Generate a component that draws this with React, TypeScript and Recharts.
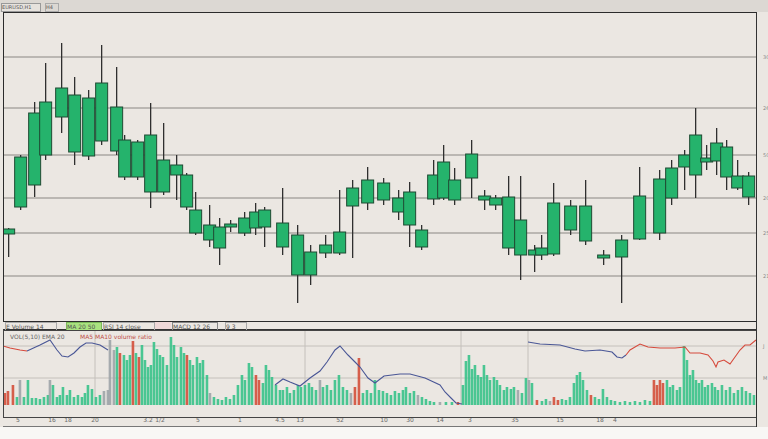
import React from 'react';
import { ComposedChart, Bar, Line, XAxis, YAxis, CartesianGrid, Cell } from 'recharts';

// ---- price panel data ----
const candleTime = [9,21,35,46,62,75,89,102,117,125,138,151,164,177,187,196,210,220,231,245,256,265,283,298,311,326,340,353,368,384,399,410,422,434,444,455,472,485,496,509,521,535,542,554,571,586,604,622,640,660,672,685,696,707,717,727,738,749];
const candleOpen = [187,214,236,266,304,269,265,280,270,244,244,229,229,246,214,188,181,173,194,188,193,194,174,146,146,168,168,215,218,221,209,196,174,222,223,221,243,221,216,173,166,166,166,167,191,180,163,164,182,188,223,254,246,259,260,244,233,224];
const candleClose = [192,264,308,319,333,326,323,338,314,281,279,286,261,256,246,211,196,194,197,203,209,211,198,186,169,176,189,233,241,238,223,229,191,246,259,241,267,225,223,224,201,171,173,218,215,215,166,181,225,242,253,266,286,263,278,274,245,245];
const candleHigh = [193,266,319,358,378,344,331,376,354,286,281,318,298,266,248,229,216,203,201,209,218,214,233,196,176,186,231,241,254,243,231,239,196,261,276,253,281,231,226,245,245,176,186,238,221,241,171,186,254,251,261,271,313,276,293,281,261,249];
const candleLow = [164,211,224,261,288,256,261,276,266,241,241,213,226,221,211,186,174,156,189,185,186,174,166,118,136,163,166,163,211,216,201,174,171,216,221,216,223,211,211,166,141,149,161,165,186,176,156,118,181,181,216,231,223,251,246,231,231,216];
const priceTicks = [145,188,223,266,313,364];
const priceTickText = ['21', '25', '20', '50', '26', '30'];
const timeGridTop = [95,172,374,461,528];

// ---- volume panel data ----
const volTime = [5,8,13,17,20,24,28,32,36,40,44,48,50,53,57,60,63,67,70,74,78,82,85,88,92,96,100,104,108,110,114,117,120,124,127,130,133,136,139,142,145,148,151,154,157,160,163,167,171,174,177,181,184,187,190,193,197,200,203,207,210,214,218,222,226,230,234,238,242,245,249,252,256,259,263,266,269,272,276,280,283,287,290,294,298,301,305,309,312,316,320,323,327,331,335,339,343,347,351,355,359,363,367,371,375,379,383,387,391,395,399,403,406,410,414,418,422,426,430,434,440,446,452,458,463,466,469,472,475,478,481,484,487,490,494,497,500,504,507,511,514,518,522,526,529,532,537,542,546,550,554,558,562,566,570,574,577,580,583,587,591,595,599,603,607,611,615,620,625,630,635,640,645,650,654,657,660,663,667,670,673,677,680,684,687,690,693,696,699,702,705,708,712,715,718,722,726,730,734,738,742,746,750,754];
const volValue = [12,14,20,8,25,8,25,7,7,6,8,10,25,20,8,10,18,10,15,8,10,8,12,20,16,8,10,14,15,65,55,58,52,50,45,50,64,52,48,60,45,38,40,63,56,50,48,40,68,60,48,58,52,50,45,40,48,42,45,30,12,8,6,5,8,6,10,20,30,25,42,38,30,25,22,40,35,28,20,15,15,18,12,15,20,18,20,22,18,15,25,18,20,15,25,30,18,15,12,18,47,12,15,12,25,15,14,12,10,14,12,15,18,12,14,10,8,6,4,3,3,3,3,3,20,44,50,36,40,30,28,40,30,25,28,25,20,15,18,16,18,15,12,27,25,22,5,4,6,4,8,5,6,5,8,22,30,33,25,15,10,8,6,16,8,5,4,3,4,3,4,3,5,4,25,20,25,22,25,18,20,15,18,59,45,30,35,25,22,25,18,20,22,18,15,20,15,18,12,15,18,14,12,10];
const volDir = 'dddufuuuuuuufuuuuuuuuuuuuuuffffudsuududsuuuuuuuuuuuuudsuuuuufuuuuuuuuuuuddsuuuuuuuuuuuuuuufuuuuuuufddsuuuusuuuuuuuufuuuufuudsuuuuuuuuuuuuuuuufuufuduufddsuuuuuuudsuuuuuuuuuuuudddduuuuuuuuuuuuuuuuuuuuuuuuuuuuddsuuuuuuduufuufuuuuufuuu';
const lineTime = [3,10,20,27,40,50,57,62,68,74,80,86,92,100,108,190,275,283,290,300,310,320,327,335,340,348,355,360,368,375,384,400,410,425,440,445,451,456,462,495,528,540,560,575,585,600,612,617,622,626,630,640,648,660,675,685,690,700,708,713,716,718,724,730,735,740,745,750,756];
const lineRedValue = [59,57,55,54,null,null,null,null,null,null,null,null,null,null,null,null,null,null,null,null,null,null,null,null,null,null,null,null,null,null,null,null,null,null,null,null,null,null,null,null,null,null,null,null,null,null,null,null,null,50,55,61,58,57,57,58,52,52,50,44,38,43,45,41,48,55,60,60,65];
const lineBlueValue = [null,null,null,54,60,65,55,49,48,52,58,62,62,60,55,null,20,26,23,19,27,34,43,55,59,50,43,38,27,22,29,31,31,27,20,13,7,2,1,null,63,61,60,56,54,55,53,48,47,50,null,null,null,null,null,null,null,null,null,null,null,null,null,null,null,null,null,null,null];
const volTicks = [27,59];
const volTickText = ['M', 'J'];
const timeGridBottom = [95,305,461,528];
const bottomTickTime = [18,52,68,95,148,160,198,240,280,300,340,384,410,440,470,515,560,600,615];
const bottomTickText = ['5','16','18','20','3.2','1/2','5','1','4.5','13','52','10','30','14','3','35','15','18','4'];

const candles = candleTime.map((t, i) => ({ t, open: candleOpen[i], close: candleClose[i], high: candleHigh[i], low: candleLow[i] }));
const volumes = volTime.map((t, i) => ({ t, vol: volValue[i], dir: volDir[i] }));
const lines = lineTime.map((t, i) => ({ t, red: lineRedValue[i], blue: lineBlueValue[i] }));

const dirColor: Record<string, string> = { u: '#38c289', d: '#d44f3b', f: '#9ea4a8', s: '#38c289' };
const CANDLE_W = 12;
const VOL_W = 2.6;

const Candle = (props: any) => {
  const { x, y, width, height, payload } = props;
  if (x == null || y == null) return null;
  const top = Math.min(y, y + height);
  const h = Math.abs(height);
  const k = h / ((payload.high - payload.low) || 1);
  const bt = top + (payload.high - Math.max(payload.open, payload.close)) * k;
  const bb = top + (payload.high - Math.min(payload.open, payload.close)) * k;
  const cx = x + width / 2;
  return (
    <g>
      <line x1={cx} x2={cx} y1={top} y2={top + h} stroke="#2f2f2f" strokeWidth={1.3} />
      <rect x={cx - CANDLE_W / 2} y={bt} width={CANDLE_W} height={Math.max(1.5, bb - bt)} fill="#25b36c" stroke="#1f4a33" strokeWidth={1} />
    </g>
  );
};

const VolBar = (props: any) => {
  const { x, y, width, height, fill } = props;
  if (x == null || y == null) return null;
  const cx = x + width / 2;
  return <rect x={cx - VOL_W / 2} y={Math.min(y, y + height)} width={VOL_W} height={Math.abs(height)} fill={fill} fillOpacity={0.9} />;
};

const tinyText: React.CSSProperties = { position: 'absolute', fontSize: 6, lineHeight: '7px', color: '#555', whiteSpace: 'nowrap' };

export default function App() {
  return (
    <div style={{ position: 'absolute', left: 0, top: 0, width: 768, height: 439, background: '#f8f7f5', overflow: 'hidden', fontFamily: 'DejaVu Sans, sans-serif' }}>
      <div style={{ position: 'absolute', left: 0, top: 0, width: 768, height: 427, background: '#ebe7e2' }} />
      <div style={{ position: 'absolute', left: 0, top: 0, width: 768, height: 12, background: '#dcd8d3' }} />
      <div style={{ ...tinyText, left: 1, top: 3, width: 38, height: 7, border: '1px solid #999', background: '#e6e2dd', fontSize: 5 }}>EURUSD,H1</div>
      <div style={{ ...tinyText, left: 45, top: 3, width: 12, height: 7, border: '1px solid #aaa', fontSize: 5 }}>H4</div>

      <div style={{ position: 'absolute', left: 0, top: 0 }}>
        <ComposedChart width={768} height={330} data={candles} margin={{ top: 12, right: 0, left: 3, bottom: 9 }}>
          <CartesianGrid stroke="#8a8783" strokeWidth={1} horizontalValues={priceTicks} verticalValues={timeGridTop} />
          <XAxis dataKey="t" type="number" domain={[3, 756]} ticks={timeGridTop} height={0} tick={false} axisLine={false} tickLine={false} allowDataOverflow />
          <YAxis orientation="right" width={12} domain={[100, 409]} ticks={priceTicks} tick={{ fontSize: 5, fill: '#8a8a8a' }} tickFormatter={(v: number, i: number) => priceTickText[i] ?? ''} axisLine={false} tickLine={false} tickMargin={1} allowDataOverflow />
          <Bar dataKey={(d: any) => [d.low, d.high]} barSize={CANDLE_W} shape={<Candle />} isAnimationActive={false} />
        </ComposedChart>
      </div>

      {/* separator row */}
      <div style={{ position: 'absolute', left: 3, top: 321, width: 753, height: 9, borderTop: '1px solid #333', borderBottom: '1px solid #333', boxSizing: 'border-box' }} />
      <div style={{ ...tinyText, left: 5, top: 322, width: 50, height: 7, border: '1px solid #aaa' }}>E  Volume  14</div>
      <div style={{ ...tinyText, left: 66, top: 322, width: 34, height: 7, background: '#a9e27f', border: '1px solid #7bb85a' }}>MA 20  50</div>
      <div style={{ ...tinyText, left: 103, top: 322, width: 50, height: 7, border: '1px solid #aaa' }}>RSI 14 close</div>
      <div style={{ ...tinyText, left: 155, top: 322, width: 16, height: 7, background: '#efd8d8' }} />
      <div style={{ ...tinyText, left: 172, top: 322, width: 44, height: 7, border: '1px solid #888' }}>MACD 12 26</div>
      <div style={{ ...tinyText, left: 225, top: 322, width: 20, height: 7, border: '1px solid #aaa' }}>9  3</div>

      <div style={{ position: 'absolute', left: 0, top: 330 }}>
        <ComposedChart width={768} height={96} data={volumes} margin={{ top: 0, right: 0, left: 3, bottom: 0 }}>
          <CartesianGrid stroke="#c4c0bb" strokeWidth={1} horizontalValues={volTicks} verticalValues={timeGridBottom} />
          <XAxis dataKey="t" type="number" domain={[3, 756]} ticks={bottomTickTime} height={21} tick={{ fontSize: 6, fill: '#6a6a6a' }} tickFormatter={(v: number, i: number) => bottomTickText[i] ?? ''} axisLine={false} tickLine={false} tickSize={0} tickMargin={13} allowDataOverflow interval={0} />
          <YAxis orientation="right" width={12} domain={[0, 75]} ticks={volTicks} tick={{ fontSize: 5, fill: '#8a8a8a' }} tickFormatter={(v: number, i: number) => volTickText[i] ?? ''} axisLine={false} tickLine={false} tickMargin={1} allowDataOverflow />
          <Bar dataKey="vol" barSize={VOL_W} shape={<VolBar />} isAnimationActive={false}>
            {volumes.map((d, i) => <Cell key={i} fill={dirColor[d.dir] || '#38c289'} />)}
          </Bar>
          <Line data={lines} dataKey="blue" type="linear" stroke="#4a5796" strokeWidth={1.1} dot={false} connectNulls={false} isAnimationActive={false} />
          <Line data={lines} dataKey="red" type="linear" stroke="#d64a3c" strokeWidth={1.1} dot={false} connectNulls={false} isAnimationActive={false} />
        </ComposedChart>
      </div>
      <div style={{ ...tinyText, left: 10, top: 333, color: '#666' }}>VOL(5,10)  EMA 20</div>
      <div style={{ ...tinyText, left: 80, top: 333, color: '#c0504a' }}>MA5  MA10  volume ratio</div>

      {/* frames */}
      <div style={{ position: 'absolute', left: 3, top: 12, width: 754, height: 310, border: '1px solid #2b2b2b', boxSizing: 'border-box', pointerEvents: 'none' }} />
      <div style={{ position: 'absolute', left: 3, top: 330, width: 754, height: 88, border: '1px solid #444', boxSizing: 'border-box', pointerEvents: 'none' }} />
      <div style={{ position: 'absolute', left: 3, top: 426, width: 754, height: 1, background: '#777' }} />
      <div style={{ position: 'absolute', left: 756, top: 12, width: 1, height: 415, background: '#333' }} />
    </div>
  );
}
